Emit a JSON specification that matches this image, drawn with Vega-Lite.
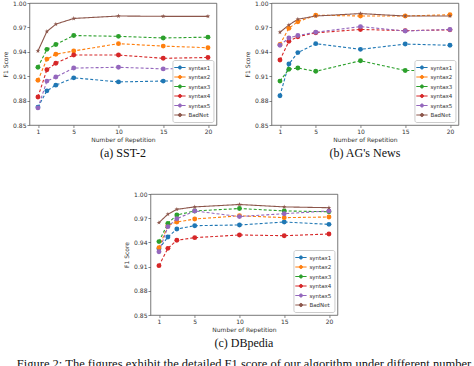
{
  "$schema": "https://vega.github.io/schema/vega-lite/v6.json",
  "padding": {"left": 2, "top": -1, "right": 0, "bottom": 0},
  "background": "white",
  "config": {
    "font": "DejaVu Sans",
    "view": {"stroke": "#555", "strokeWidth": 0.8},
    "axis": {"grid": false, "domain": false, "tickSize": 2.5, "tickColor": "#555", "tickWidth": 0.7, "labelFontSize": 6, "labelColor": "#333", "titleFontSize": 6, "titleFontWeight": "normal", "titleColor": "#333", "labelPadding": 1},
    "legend": {"labelFontSize": 5.5, "labelColor": "#333", "orient": "bottom-right", "offset": 3, "padding": 3, "rowPadding": 0.5, "strokeColor": "#ccc", "fillColor": "white", "cornerRadius": 2, "symbolSize": 60, "title": null},
    "title": {"font": "Liberation Serif", "fontSize": 12, "fontWeight": "normal", "color": "#111"}
  },
  "data": {"values": [
    {"ds": "SST-2", "m": "syntax1", "r": 1, "f": 0.872}, {"ds": "SST-2", "m": "syntax1", "r": 2, "f": 0.892}, {"ds": "SST-2", "m": "syntax1", "r": 3, "f": 0.899}, {"ds": "SST-2", "m": "syntax1", "r": 5, "f": 0.908}, {"ds": "SST-2", "m": "syntax1", "r": 10, "f": 0.903}, {"ds": "SST-2", "m": "syntax1", "r": 15, "f": 0.904}, {"ds": "SST-2", "m": "syntax1", "r": 20, "f": 0.905},
    {"ds": "SST-2", "m": "syntax2", "r": 1, "f": 0.905}, {"ds": "SST-2", "m": "syntax2", "r": 2, "f": 0.931}, {"ds": "SST-2", "m": "syntax2", "r": 3, "f": 0.937}, {"ds": "SST-2", "m": "syntax2", "r": 5, "f": 0.941}, {"ds": "SST-2", "m": "syntax2", "r": 10, "f": 0.950}, {"ds": "SST-2", "m": "syntax2", "r": 15, "f": 0.947}, {"ds": "SST-2", "m": "syntax2", "r": 20, "f": 0.945},
    {"ds": "SST-2", "m": "syntax3", "r": 1, "f": 0.921}, {"ds": "SST-2", "m": "syntax3", "r": 2, "f": 0.943}, {"ds": "SST-2", "m": "syntax3", "r": 3, "f": 0.949}, {"ds": "SST-2", "m": "syntax3", "r": 5, "f": 0.960}, {"ds": "SST-2", "m": "syntax3", "r": 10, "f": 0.959}, {"ds": "SST-2", "m": "syntax3", "r": 15, "f": 0.957}, {"ds": "SST-2", "m": "syntax3", "r": 20, "f": 0.958},
    {"ds": "SST-2", "m": "syntax4", "r": 1, "f": 0.8845}, {"ds": "SST-2", "m": "syntax4", "r": 2, "f": 0.918}, {"ds": "SST-2", "m": "syntax4", "r": 3, "f": 0.926}, {"ds": "SST-2", "m": "syntax4", "r": 5, "f": 0.936}, {"ds": "SST-2", "m": "syntax4", "r": 10, "f": 0.936}, {"ds": "SST-2", "m": "syntax4", "r": 15, "f": 0.932}, {"ds": "SST-2", "m": "syntax4", "r": 20, "f": 0.933},
    {"ds": "SST-2", "m": "syntax5", "r": 1, "f": 0.871}, {"ds": "SST-2", "m": "syntax5", "r": 2, "f": 0.904}, {"ds": "SST-2", "m": "syntax5", "r": 3, "f": 0.909}, {"ds": "SST-2", "m": "syntax5", "r": 5, "f": 0.920}, {"ds": "SST-2", "m": "syntax5", "r": 10, "f": 0.921}, {"ds": "SST-2", "m": "syntax5", "r": 15, "f": 0.919}, {"ds": "SST-2", "m": "syntax5", "r": 20, "f": 0.920},
    {"ds": "SST-2", "m": "BadNet", "r": 1, "f": 0.941}, {"ds": "SST-2", "m": "BadNet", "r": 2, "f": 0.965}, {"ds": "SST-2", "m": "BadNet", "r": 3, "f": 0.974}, {"ds": "SST-2", "m": "BadNet", "r": 5, "f": 0.981}, {"ds": "SST-2", "m": "BadNet", "r": 10, "f": 0.984}, {"ds": "SST-2", "m": "BadNet", "r": 15, "f": 0.9836}, {"ds": "SST-2", "m": "BadNet", "r": 20, "f": 0.9836},

    {"ds": "AG", "m": "syntax1", "r": 1, "f": 0.886}, {"ds": "AG", "m": "syntax1", "r": 2, "f": 0.925}, {"ds": "AG", "m": "syntax1", "r": 3, "f": 0.939}, {"ds": "AG", "m": "syntax1", "r": 5, "f": 0.950}, {"ds": "AG", "m": "syntax1", "r": 10, "f": 0.943}, {"ds": "AG", "m": "syntax1", "r": 15, "f": 0.9495}, {"ds": "AG", "m": "syntax1", "r": 20, "f": 0.948},
    {"ds": "AG", "m": "syntax2", "r": 1, "f": 0.949}, {"ds": "AG", "m": "syntax2", "r": 2, "f": 0.969}, {"ds": "AG", "m": "syntax2", "r": 3, "f": 0.977}, {"ds": "AG", "m": "syntax2", "r": 5, "f": 0.985}, {"ds": "AG", "m": "syntax2", "r": 10, "f": 0.984}, {"ds": "AG", "m": "syntax2", "r": 15, "f": 0.984}, {"ds": "AG", "m": "syntax2", "r": 20, "f": 0.9856},
    {"ds": "AG", "m": "syntax3", "r": 1, "f": 0.904}, {"ds": "AG", "m": "syntax3", "r": 2, "f": 0.9186}, {"ds": "AG", "m": "syntax3", "r": 3, "f": 0.920}, {"ds": "AG", "m": "syntax3", "r": 5, "f": 0.916}, {"ds": "AG", "m": "syntax3", "r": 10, "f": 0.929}, {"ds": "AG", "m": "syntax3", "r": 15, "f": 0.917}, {"ds": "AG", "m": "syntax3", "r": 20, "f": 0.9174},
    {"ds": "AG", "m": "syntax4", "r": 1, "f": 0.930}, {"ds": "AG", "m": "syntax4", "r": 2, "f": 0.953}, {"ds": "AG", "m": "syntax4", "r": 3, "f": 0.9585}, {"ds": "AG", "m": "syntax4", "r": 5, "f": 0.9634}, {"ds": "AG", "m": "syntax4", "r": 10, "f": 0.9675}, {"ds": "AG", "m": "syntax4", "r": 15, "f": 0.966}, {"ds": "AG", "m": "syntax4", "r": 20, "f": 0.967},
    {"ds": "AG", "m": "syntax5", "r": 1, "f": 0.948}, {"ds": "AG", "m": "syntax5", "r": 2, "f": 0.957}, {"ds": "AG", "m": "syntax5", "r": 3, "f": 0.960}, {"ds": "AG", "m": "syntax5", "r": 5, "f": 0.964}, {"ds": "AG", "m": "syntax5", "r": 10, "f": 0.971}, {"ds": "AG", "m": "syntax5", "r": 15, "f": 0.9655}, {"ds": "AG", "m": "syntax5", "r": 20, "f": 0.9675},
    {"ds": "AG", "m": "BadNet", "r": 1, "f": 0.964}, {"ds": "AG", "m": "BadNet", "r": 2, "f": 0.973}, {"ds": "AG", "m": "BadNet", "r": 3, "f": 0.980}, {"ds": "AG", "m": "BadNet", "r": 5, "f": 0.984}, {"ds": "AG", "m": "BadNet", "r": 10, "f": 0.987}, {"ds": "AG", "m": "BadNet", "r": 15, "f": 0.984}, {"ds": "AG", "m": "BadNet", "r": 20, "f": 0.984},

    {"ds": "DB", "m": "syntax1", "r": 1, "f": 0.932}, {"ds": "DB", "m": "syntax1", "r": 2, "f": 0.9467}, {"ds": "DB", "m": "syntax1", "r": 3, "f": 0.9566}, {"ds": "DB", "m": "syntax1", "r": 5, "f": 0.9607}, {"ds": "DB", "m": "syntax1", "r": 10, "f": 0.9616}, {"ds": "DB", "m": "syntax1", "r": 15, "f": 0.9653}, {"ds": "DB", "m": "syntax1", "r": 20, "f": 0.9624},
    {"ds": "DB", "m": "syntax2", "r": 1, "f": 0.9335}, {"ds": "DB", "m": "syntax2", "r": 2, "f": 0.961}, {"ds": "DB", "m": "syntax2", "r": 3, "f": 0.9653}, {"ds": "DB", "m": "syntax2", "r": 5, "f": 0.969}, {"ds": "DB", "m": "syntax2", "r": 10, "f": 0.973}, {"ds": "DB", "m": "syntax2", "r": 15, "f": 0.9707}, {"ds": "DB", "m": "syntax2", "r": 20, "f": 0.9715},
    {"ds": "DB", "m": "syntax3", "r": 1, "f": 0.941}, {"ds": "DB", "m": "syntax3", "r": 2, "f": 0.9636}, {"ds": "DB", "m": "syntax3", "r": 3, "f": 0.974}, {"ds": "DB", "m": "syntax3", "r": 5, "f": 0.979}, {"ds": "DB", "m": "syntax3", "r": 10, "f": 0.982}, {"ds": "DB", "m": "syntax3", "r": 15, "f": 0.979}, {"ds": "DB", "m": "syntax3", "r": 20, "f": 0.978},
    {"ds": "DB", "m": "syntax4", "r": 1, "f": 0.9112}, {"ds": "DB", "m": "syntax4", "r": 2, "f": 0.9326}, {"ds": "DB", "m": "syntax4", "r": 3, "f": 0.9426}, {"ds": "DB", "m": "syntax4", "r": 5, "f": 0.9459}, {"ds": "DB", "m": "syntax4", "r": 10, "f": 0.9492}, {"ds": "DB", "m": "syntax4", "r": 15, "f": 0.9483}, {"ds": "DB", "m": "syntax4", "r": 20, "f": 0.9504},
    {"ds": "DB", "m": "syntax5", "r": 1, "f": 0.9285}, {"ds": "DB", "m": "syntax5", "r": 2, "f": 0.9595}, {"ds": "DB", "m": "syntax5", "r": 3, "f": 0.9694}, {"ds": "DB", "m": "syntax5", "r": 5, "f": 0.979}, {"ds": "DB", "m": "syntax5", "r": 10, "f": 0.972}, {"ds": "DB", "m": "syntax5", "r": 15, "f": 0.9756}, {"ds": "DB", "m": "syntax5", "r": 20, "f": 0.979},
    {"ds": "DB", "m": "BadNet", "r": 1, "f": 0.9645}, {"ds": "DB", "m": "BadNet", "r": 2, "f": 0.975}, {"ds": "DB", "m": "BadNet", "r": 3, "f": 0.981}, {"ds": "DB", "m": "BadNet", "r": 5, "f": 0.984}, {"ds": "DB", "m": "BadNet", "r": 10, "f": 0.987}, {"ds": "DB", "m": "BadNet", "r": 15, "f": 0.984}, {"ds": "DB", "m": "BadNet", "r": 20, "f": 0.983},
    {"ds": "CAP", "m": "caption", "r": 0, "f": 0, "t": "Figure 2: The figures exhibit the detailed F1 score of our algorithm under different number"}
  ]},
  "resolve": {"legend": {"color": "independent"}, "scale": {"color": "independent", "x": "independent", "y": "independent"}},
  "center": true,
  "spacing": 8,
  "vconcat": [
    {
      "center": true,
      "spacing": 30,
      "resolve": {"legend": {"color": "independent"}, "scale": {"color": "independent", "x": "independent", "y": "independent"}},
      "vconcat": [
        {
          "hconcat": [
            {
              "width": 187, "height": 122,
              "title": {"text": "(a) SST-2", "orient": "bottom", "offset": 6},
              "transform": [{"filter": "datum.ds === 'SST-2'"}],
              "encoding": {
                "x": {"field": "r", "type": "quantitative", "scale": {"domain": [0.05, 20.95], "nice": false, "zero": false}, "axis": {"values": [1, 5, 10, 15, 20], "title": "Number of Repetition", "titlePadding": 1.5}},
                "y": {"field": "f", "type": "quantitative", "scale": {"domain": [0.85, 1.0], "nice": false, "zero": false}, "axis": {"values": [0.85, 0.88, 0.91, 0.94, 0.97, 1.0], "format": ".2f", "title": "F1 Score", "titlePadding": 4}},
                "color": {"field": "m", "type": "nominal", "sort": ["syntax1", "syntax2", "syntax3", "syntax4", "syntax5", "BadNet"], "scale": {"domain": ["syntax1", "syntax2", "syntax3", "syntax4", "syntax5", "BadNet"], "range": ["#1f77b4", "#ff7f0e", "#2ca02c", "#d62728", "#9467bd", "#8c564b"]}, "legend": {"symbolType": "M-1.6,0L1.6,0M-0.45,0A0.45,0.45 0 1,0 0.45,0A0.45,0.45 0 1,0 -0.45,0", "symbolStrokeWidth": 1, "symbolSize": 50}}
              },
              "layer": [
                {"mark": {"type": "line", "strokeWidth": 1.1}, "encoding": {"strokeDash": {"field": "m", "type": "nominal", "scale": {"domain": ["syntax1", "syntax2", "syntax3", "syntax4", "syntax5", "BadNet"], "range": [[3, 2], [3, 2], [3, 2], [3, 2], [3, 2], [1, 0]]}, "legend": null}}},
                {"mark": {"type": "point", "filled": true, "opacity": 1}, "encoding": {
                  "shape": {"field": "m", "type": "nominal", "scale": {"domain": ["syntax1", "syntax2", "syntax3", "syntax4", "syntax5", "BadNet"], "range": ["circle", "circle", "circle", "circle", "circle", "M0,-1L0.225,-0.309L0.951,-0.309L0.363,0.118L0.588,0.809L0,0.382L-0.588,0.809L-0.363,0.118L-0.951,-0.309L-0.225,-0.309Z"]}, "legend": null},
                  "size": {"field": "m", "type": "nominal", "scale": {"domain": ["syntax1", "syntax2", "syntax3", "syntax4", "syntax5", "BadNet"], "range": [24, 24, 24, 24, 24, 12]}, "legend": null}}}
              ]
            },
            {
              "width": 187, "height": 122,
              "title": {"text": "(b) AG's News", "orient": "bottom", "offset": 6},
              "transform": [{"filter": "datum.ds === 'AG'"}],
              "encoding": {
                "x": {"field": "r", "type": "quantitative", "scale": {"domain": [0.05, 20.95], "nice": false, "zero": false}, "axis": {"values": [1, 5, 10, 15, 20], "title": "Number of Repetition", "titlePadding": 1.5}},
                "y": {"field": "f", "type": "quantitative", "scale": {"domain": [0.85, 1.0], "nice": false, "zero": false}, "axis": {"values": [0.85, 0.88, 0.91, 0.94, 0.97, 1.0], "format": ".2f", "title": "F1 Score", "titlePadding": 4}},
                "color": {"field": "m", "type": "nominal", "sort": ["syntax1", "syntax2", "syntax3", "syntax4", "syntax5", "BadNet"], "scale": {"domain": ["syntax1", "syntax2", "syntax3", "syntax4", "syntax5", "BadNet"], "range": ["#1f77b4", "#ff7f0e", "#2ca02c", "#d62728", "#9467bd", "#8c564b"]}, "legend": {"symbolType": "M-1.6,0L1.6,0M-0.45,0A0.45,0.45 0 1,0 0.45,0A0.45,0.45 0 1,0 -0.45,0", "symbolStrokeWidth": 1, "symbolSize": 50}}
              },
              "layer": [
                {"mark": {"type": "line", "strokeWidth": 1.1}, "encoding": {"strokeDash": {"field": "m", "type": "nominal", "scale": {"domain": ["syntax1", "syntax2", "syntax3", "syntax4", "syntax5", "BadNet"], "range": [[3, 2], [3, 2], [3, 2], [3, 2], [3, 2], [1, 0]]}, "legend": null}}},
                {"mark": {"type": "point", "filled": true, "opacity": 1}, "encoding": {
                  "shape": {"field": "m", "type": "nominal", "scale": {"domain": ["syntax1", "syntax2", "syntax3", "syntax4", "syntax5", "BadNet"], "range": ["circle", "circle", "circle", "circle", "circle", "M0,-1L0.225,-0.309L0.951,-0.309L0.363,0.118L0.588,0.809L0,0.382L-0.588,0.809L-0.363,0.118L-0.951,-0.309L-0.225,-0.309Z"]}, "legend": null},
                  "size": {"field": "m", "type": "nominal", "scale": {"domain": ["syntax1", "syntax2", "syntax3", "syntax4", "syntax5", "BadNet"], "range": [24, 24, 24, 24, 24, 12]}, "legend": null}}}
              ]
            }
          ],
          "spacing": 26,
          "resolve": {"legend": {"color": "independent"}, "scale": {"color": "independent", "x": "independent", "y": "independent"}}
        },
        {
          "width": 187, "height": 121,
          "title": {"text": "(c) DBpedia", "orient": "bottom", "offset": 6},
          "transform": [{"filter": "datum.ds === 'DB'"}],
          "encoding": {
            "x": {"field": "r", "type": "quantitative", "scale": {"domain": [0.05, 20.95], "nice": false, "zero": false}, "axis": {"values": [1, 5, 10, 15, 20], "title": "Number of Repetition", "titlePadding": 1.5}},
            "y": {"field": "f", "type": "quantitative", "scale": {"domain": [0.85, 1.0], "nice": false, "zero": false}, "axis": {"values": [0.85, 0.88, 0.91, 0.94, 0.97, 1.0], "format": ".2f", "title": "F1 Score", "titlePadding": 4}},
            "color": {"field": "m", "type": "nominal", "sort": ["syntax1", "syntax2", "syntax3", "syntax4", "syntax5", "BadNet"], "scale": {"domain": ["syntax1", "syntax2", "syntax3", "syntax4", "syntax5", "BadNet"], "range": ["#1f77b4", "#ff7f0e", "#2ca02c", "#d62728", "#9467bd", "#8c564b"]}, "legend": {"symbolType": "M-1.6,0L1.6,0M-0.45,0A0.45,0.45 0 1,0 0.45,0A0.45,0.45 0 1,0 -0.45,0", "symbolStrokeWidth": 1, "symbolSize": 50}}
          },
          "layer": [
            {"mark": {"type": "line", "strokeWidth": 1.1}, "encoding": {"strokeDash": {"field": "m", "type": "nominal", "scale": {"domain": ["syntax1", "syntax2", "syntax3", "syntax4", "syntax5", "BadNet"], "range": [[3, 2], [3, 2], [3, 2], [3, 2], [3, 2], [1, 0]]}, "legend": null}}},
            {"mark": {"type": "point", "filled": true, "opacity": 1}, "encoding": {
              "shape": {"field": "m", "type": "nominal", "scale": {"domain": ["syntax1", "syntax2", "syntax3", "syntax4", "syntax5", "BadNet"], "range": ["circle", "circle", "circle", "circle", "circle", "M0,-1L0.225,-0.309L0.951,-0.309L0.363,0.118L0.588,0.809L0,0.382L-0.588,0.809L-0.363,0.118L-0.951,-0.309L-0.225,-0.309Z"]}, "legend": null},
              "size": {"field": "m", "type": "nominal", "scale": {"domain": ["syntax1", "syntax2", "syntax3", "syntax4", "syntax5", "BadNet"], "range": [24, 24, 24, 24, 24, 12]}, "legend": null}}}
          ]
        }
      ]
    },
    {
      "width": 470, "height": 12,
      "view": {"stroke": null},
      "transform": [{"filter": "datum.ds === 'CAP'"}],
      "mark": {"type": "text", "font": "Liberation Serif", "fontSize": 12.5, "color": "#111", "align": "center", "baseline": "middle"},
      "encoding": {"text": {"field": "t"}}
    }
  ]
}
